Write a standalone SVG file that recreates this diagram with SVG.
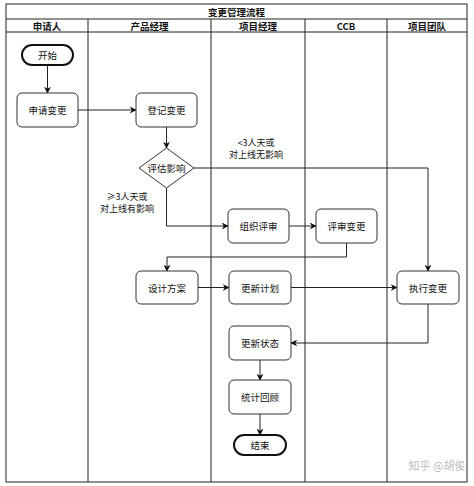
<svg xmlns="http://www.w3.org/2000/svg" width="474" height="486" viewBox="0 0 474 486">
<style>
text{font-family:"Noto Sans CJK SC","Liberation Sans",sans-serif;font-size:9.5px;fill:#111;text-anchor:middle;dominant-baseline:central}
.hd{font-weight:bold}
.lbl{font-size:9px}
.lane{fill:none;stroke:#222;stroke-width:1}
.box{fill:#fff;stroke:#333;stroke-width:1}
.term{fill:#fff;stroke:#111;stroke-width:2}
.edge{fill:none;stroke:#222;stroke-width:1;marker-end:url(#ah)}
.wm{fill:#bbb;font-size:11px}
</style>
<defs>
<marker id="ah" viewBox="0 0 10 10" refX="9" refY="5" markerWidth="7" markerHeight="7" markerUnits="userSpaceOnUse" orient="auto">
<path d="M0,0 L10,5 L0,10 L3,5 Z" fill="#111"/>
</marker>
</defs>
<rect width="474" height="486" fill="#fff"/>
<g id="pool">
<rect class="lane" x="6" y="4" width="461" height="478"/>
<line class="lane" x1="6" y1="19" x2="467" y2="19"/>
<line class="lane" x1="6" y1="32" x2="467" y2="32"/>
<line class="lane" x1="88" y1="19" x2="88" y2="482"/>
<line class="lane" x1="211" y1="19" x2="211" y2="482"/>
<line class="lane" x1="305" y1="19" x2="305" y2="482"/>
<line class="lane" x1="387" y1="19" x2="387" y2="482"/>
<text class="hd" x="236.5" y="11.5">变更管理流程</text>
<text class="hd" x="47" y="25.5">申请人</text>
<text class="hd" x="149.5" y="25.5">产品经理</text>
<text class="hd" x="258" y="25.5">项目经理</text>
<text class="hd" x="346" y="25.5">CCB</text>
<text class="hd" x="427" y="25.5">项目团队</text>
</g>
<g id="connectors">
<path class="edge" d="M47.5,65 V93"/>
<path class="edge" d="M78,110 H136"/>
<path class="edge" d="M166.5,127 V148"/>
<path class="edge" d="M194,168 H428 V271"/>
<path class="edge" d="M166.5,188 V226 H228"/>
<path class="edge" d="M289,226 H316"/>
<path class="edge" d="M346.5,243 V257 H167 V271"/>
<path class="edge" d="M198,287.5 H229"/>
<path class="edge" d="M291,287.5 H397"/>
<path class="edge" d="M428,304 V343 H291"/>
<path class="edge" d="M260,360 V380"/>
<path class="edge" d="M260,414 V435"/>
<text class="lbl" x="256" y="142">&lt;3人天或</text>
<text class="lbl" x="256" y="154">对上线无影响</text>
<text class="lbl" x="127" y="196">≥3人天或</text>
<text class="lbl" x="127" y="208">对上线有影响</text>
</g>
<g id="start"><rect class="term" x="22" y="45" width="51" height="20" rx="10"/><text x="47.5" y="55">开始</text></g>
<g id="apply"><rect class="box" x="17" y="93" width="61" height="34" rx="5"/><text x="47.5" y="110">申请变更</text></g>
<g id="register"><rect class="box" x="136" y="93" width="61" height="34" rx="5"/><text x="166.5" y="110">登记变更</text></g>
<g id="assess"><polygon class="box" points="166.5,148 194,168 166.5,188 139,168"/><text x="166.5" y="168">评估影响</text></g>
<g id="organize"><rect class="box" x="228" y="209" width="61" height="34" rx="5"/><text x="258.5" y="226">组织评审</text></g>
<g id="review"><rect class="box" x="316" y="209" width="61" height="34" rx="5"/><text x="346.5" y="226">评审变更</text></g>
<g id="design"><rect class="box" x="136" y="271" width="62" height="33" rx="5"/><text x="167" y="287.5">设计方案</text></g>
<g id="plan"><rect class="box" x="229" y="271" width="62" height="33" rx="5"/><text x="260" y="287.5">更新计划</text></g>
<g id="execute"><rect class="box" x="397" y="271" width="62" height="33" rx="5"/><text x="428" y="287.5">执行变更</text></g>
<g id="status"><rect class="box" x="229" y="326" width="62" height="34" rx="5"/><text x="260" y="343">更新状态</text></g>
<g id="retro"><rect class="box" x="229" y="380" width="62" height="34" rx="5"/><text x="260" y="397">统计回顾</text></g>
<g id="end"><rect class="term" x="234" y="435" width="52" height="20" rx="10"/><text x="260" y="445">结束</text></g>
<text class="wm" x="437" y="465">知乎 @胡俊</text>
</svg>
